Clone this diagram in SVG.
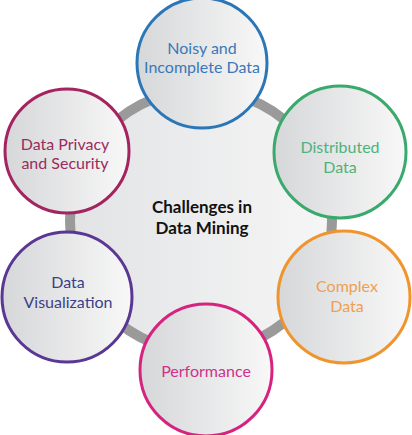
<svg xmlns="http://www.w3.org/2000/svg" width="412" height="435" viewBox="0 0 412 435">
<defs>
<linearGradient id="gNode" x1="0" y1="0" x2="1" y2="0">
<stop offset="0" stop-color="#d6d7d9"/>
<stop offset="1" stop-color="#f8f8f8"/>
</linearGradient>
<linearGradient id="gBg" x1="0" y1="0" x2="1" y2="0">
<stop offset="0" stop-color="#e2e3e5"/>
<stop offset="1" stop-color="#f6f6f6"/>
</linearGradient>
</defs>
<style>
.node circle{fill:url(#gNode);stroke-width:3}
.lbl{font-family:Lato,"Open Sans",sans-serif;font-size:16px;text-anchor:middle}
.title{font-family:Lato,"Open Sans",sans-serif;font-size:17px;font-weight:bold;text-anchor:middle;fill:#111}
</style>
<rect width="412" height="435" fill="#ffffff"/>
<g id="connectors">
<circle cx="201" cy="221" r="131" fill="url(#gBg)" stroke="#9a9a9a" stroke-width="10"/>
</g>
<g id="center">
<text class="title" x="202" y="213">Challenges in</text>
<text class="title" x="202" y="234">Data Mining</text>
</g>
<g id="noisy" class="node">
<circle cx="202" cy="63" r="65" stroke="#2b76b7"/>
<text class="lbl" fill="#3a78b8" x="202" y="54">Noisy and</text>
<text class="lbl" fill="#3a78b8" x="202" y="73">Incomplete Data</text>
</g>
<g id="privacy" class="node">
<circle cx="67" cy="151" r="62" stroke="#a3245f"/>
<text class="lbl" fill="#9b2b5e" x="65" y="150">Data Privacy</text>
<text class="lbl" fill="#9b2b5e" x="65" y="169">and Security</text>
</g>
<g id="distributed" class="node">
<circle cx="340" cy="152" r="66" stroke="#3aa96c"/>
<text class="lbl" fill="#4db37a" x="340" y="153">Distributed</text>
<text class="lbl" fill="#4db37a" x="340" y="173">Data</text>
</g>
<g id="visualization" class="node">
<circle cx="67" cy="297" r="65" stroke="#5b3794"/>
<text class="lbl" fill="#3d3f8a" x="68" y="288">Data</text>
<text class="lbl" fill="#3d3f8a" x="68" y="308">Visualization</text>
</g>
<g id="complex" class="node">
<circle cx="344" cy="297" r="66" stroke="#f0952e"/>
<text class="lbl" fill="#eea050" x="347" y="292">Complex</text>
<text class="lbl" fill="#eea050" x="347" y="312">Data</text>
</g>
<g id="performance" class="node">
<circle cx="206" cy="370" r="66" stroke="#d6237f"/>
<text class="lbl" fill="#d0318a" x="206" y="377">Performance</text>
</g>
</svg>
